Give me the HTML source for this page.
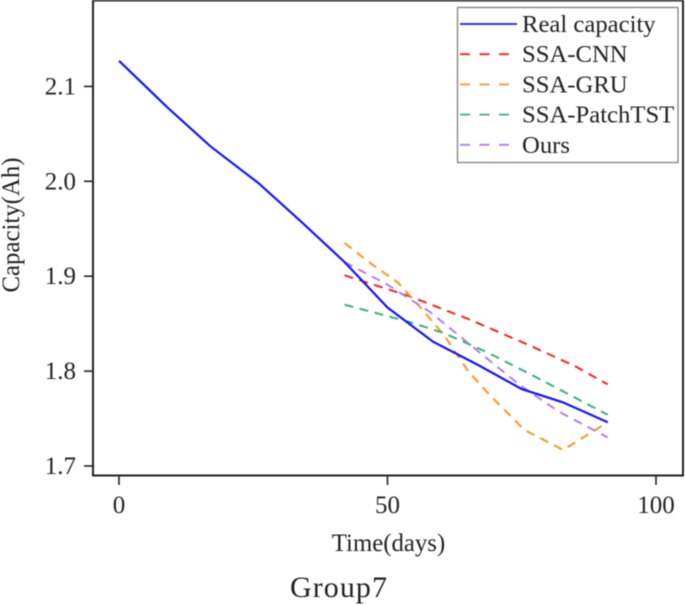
<!DOCTYPE html>
<html>
<head>
<meta charset="utf-8">
<style>
html,body{margin:0;padding:0;background:#fff;width:685px;height:605px;overflow:hidden}
svg{display:block;filter:blur(0.4px)}
text{font-family:"Liberation Serif",serif;fill:#222}
</style>
</head>
<body>
<svg id="chart" width="685" height="605" viewBox="0 0 685 605" xmlns="http://www.w3.org/2000/svg"></svg>
<script>
const xTicks = [0, 50, 100];
const yTicks = [1.7, 1.8, 1.9, 2.0, 2.1];
const realX = [0, 9, 17, 26, 34, 42, 50, 58.5, 67, 75, 82.7, 91];
const realY = [2.127, 2.078, 2.037, 1.998, 1.957, 1.915, 1.867, 1.831, 1.806, 1.781, 1.767, 1.746];
const cnnX = [42, 54, 65, 76.5, 85, 91];
const cnnY = [1.901, 1.879, 1.855, 1.827, 1.805, 1.786];
const gruX = [42, 47, 52, 56, 60.5, 65, 69, 75.5, 82.7, 91];
const gruY = [1.935, 1.913, 1.893, 1.868, 1.838, 1.800, 1.775, 1.738, 1.717, 1.746];
const patchX = [42, 54, 60.5, 68.5, 76.5, 91];
const patchY = [1.870, 1.852, 1.840, 1.820, 1.797, 1.754];
const oursX = [42, 50, 58, 66, 74.7, 82, 91];
const oursY = [1.915, 1.891, 1.862, 1.825, 1.785, 1.757, 1.730];
const seriesNames = ["Real capacity", "SSA-CNN", "SSA-GRU", "SSA-PatchTST", "Ours"];

const svg = document.getElementById('chart');
const NS = 'http://www.w3.org/2000/svg';
const xScale = v => 119 + (v - 0) * (656 - 119) / 100;
const yScale = v => 466 - (v - 1.7) * 949;

function make(tag, attrs, parent) {
  const el = document.createElementNS(NS, tag);
  for (const k in attrs) el.setAttribute(k, attrs[k]);
  (parent || svg).appendChild(el);
  return el;
}

const plotFrame = make('rect', {x: 93, y: 0.5, width: 590, height: 475, fill: 'none', stroke: '#222', 'stroke-width': 2});



xTicks.forEach(t => {
  const tick = make('line', {x1: xScale(t), x2: xScale(t), y1: 476, y2: 485, stroke: '#222', 'stroke-width': 1.6});
  
  
  const label = make('text', {x: xScale(t), y: 513, 'text-anchor': 'middle', 'font-size': 25});
  
  
  label.textContent = String(t);
});

yTicks.forEach(t => {
  const tick = make('line', {x1: 84, x2: 93, y1: yScale(t), y2: yScale(t), stroke: '#222', 'stroke-width': 1.6});
  
  
  const label = make('text', {x: 76, y: yScale(t) + 8, 'text-anchor': 'end', 'font-size': 25});
  
  
  label.textContent = t.toFixed(1);
});

function drawSeries(xs, ys, color, dash, name, width) {
  const pts = xs.map((x, i) => xScale(x).toFixed(1) + ',' + yScale(ys[i]).toFixed(1)).join(' ');
  const line = make('polyline', {points: pts, fill: 'none', stroke: color, 'stroke-width': width, 'stroke-dasharray': dash});
  
  
}

const colors = ['#1414ff', '#ff1f1f', '#ff9420', '#35b374', '#b57de6'];
drawSeries(cnnX, cnnY, colors[1], '9 6.5', 'series-ssa-cnn', 2);
drawSeries(gruX, gruY, colors[2], '9 6.5', 'series-ssa-gru', 2);
drawSeries(patchX, patchY, colors[3], '9 6.5', 'series-ssa-patchtst', 2);
drawSeries(oursX, oursY, colors[4], '9 6.5', 'series-ours', 2);
drawSeries(realX, realY, colors[0], 'none', 'series-real-capacity', 2.2);

const legendBox = make('rect', {x: 457.5, y: 7.5, width: 220.5, height: 155, fill: '#fff', stroke: '#777', 'stroke-width': 1.2});



seriesNames.forEach((n, i) => {
  const y = 24 + i * 30.2;
  const swatch = make('line', {x1: 460, x2: 517, y1: y, y2: y, stroke: colors[i], 'stroke-width': 1.8, 'stroke-dasharray': i === 0 ? 'none' : '10 9.5'});
  
  
  const label = make('text', {x: 522, y: y + 8, 'font-size': 24.7});
  
  
  label.textContent = n;
});

const xTitle = make('text', {x: 388.5, y: 551, 'text-anchor': 'middle', 'font-size': 24.8});


xTitle.textContent = 'Time(days)';

const yTitle = make('text', {transform: 'translate(19 225) rotate(-90)', 'text-anchor': 'middle', 'font-size': 24.8});


yTitle.textContent = 'Capacity(Ah)';

const caption = make('text', {x: 290, y: 597, 'font-size': 30, textLength: 97, lengthAdjust: 'spacing'});


caption.textContent = 'Group7';
</script>
</body>
</html>
